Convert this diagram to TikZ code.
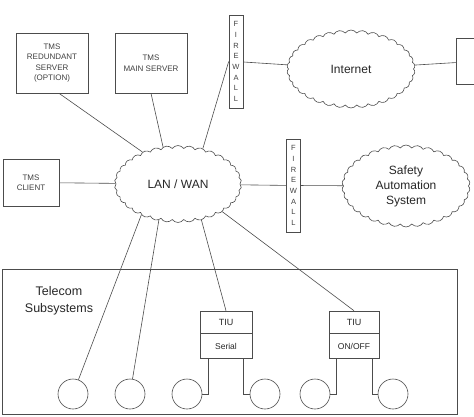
\documentclass[tikz,border=0pt]{standalone}
\usepackage{fontspec}
\setmainfont{Liberation Sans}
\usetikzlibrary{positioning,shapes.symbols}

\begin{document}
\begin{tikzpicture}[x=1pt, y=-1pt,
  line/.style={draw=black!70, line width=0.6pt},
  box/.style={draw=black!70, line width=0.6pt, align=center, text=black!75,
    font=\fontsize{8}{10.5}\selectfont, inner sep=0pt},
  wall/.style={box, minimum width=14pt, minimum height=93pt,
    font=\fontsize{7.5}{10.7}\selectfont},
  net/.style={cloud, cloud puffs=34, cloud puff arc=110, cloud ignores aspect,
    draw=black!70, line width=0.6pt, align=center, text=black!85,
    font=\fontsize{12}{15}\selectfont, inner sep=0pt},
  tiu/.style={box, minimum width=52pt, text=black!85},
  sub/.style={circle, draw=black!70, line width=0.6pt, minimum size=30pt, inner sep=0pt}
]
  \useasboundingbox (0,0) rectangle (474,416);

  % servers and client
  \node[box, minimum width=72pt, minimum height=60pt] (red) at (52,63)
    {TMS\\REDUNDANT\\SERVER\\(OPTION)};
  \node[box, minimum width=72pt, minimum height=60pt] (main) at (151,63)
    {TMS\\MAIN SERVER};
  \node[box, minimum width=56pt, minimum height=47pt] (client) at (31,182.5)
    {TMS\\CLIENT};

  % firewalls
  \node[wall] (fw1) at (236,61.5) {F\\I\\R\\E\\W\\A\\L\\L};
  \node[wall] (fw2) at (293.5,185.5) {F\\I\\R\\E\\W\\A\\L\\L};

  % networks
  \node[net, minimum width=128pt, minimum height=78pt] (internet) at (351,69) {Internet};
  \node[net, minimum width=127pt, minimum height=77pt] (lan) at (178,184) {LAN / WAN};
  \node[net, minimum width=128pt, minimum height=82pt] (safety) at (406,186)
    {Safety\\Automation\\System};
  \node[box, minimum width=40pt, minimum height=46pt, anchor=north west] (ext) at (456,38) {};

  % telecom subsystems
  \node[box, minimum width=455pt, minimum height=145pt, anchor=north west] (telecom) at (2,269) {};
  \node[align=center, text=black!85, font=\fontsize{12.5}{16.7}\selectfont] (tlabel) at (59,301)
    {Telecom\\Subsystems};

  \node[tiu, minimum height=22pt, font=\fontsize{9}{11}\selectfont] (tiu1) at (226,322) {TIU};
  \node[tiu, minimum height=25pt, font=\fontsize{8.5}{10}\selectfont, below=0pt of tiu1] (ser) {Serial};
  \node[tiu, minimum width=50pt, minimum height=22pt, font=\fontsize{9}{11}\selectfont] (tiu2) at (354,322) {TIU};
  \node[tiu, minimum width=50pt, minimum height=25pt, font=\fontsize{8.5}{10}\selectfont, below=0pt of tiu2] (onoff) {ON/OFF};

  \node[sub] (c1) at (73,394) {};
  \node[sub] (c2) at (130,394) {};
  \node[sub] (c3) at (187,394) {};
  \node[sub] (c4) at (265,394) {};
  \node[sub] (c5) at (315,394) {};
  \node[sub] (c6) at (393,394) {};

  % links
  \draw[line] ([xshift=7pt]red.south) -- (lan.138);
  \draw[line] (main.south) -- (lan.112);
  \draw[line] (fw1.west) -- (lan.55);
  \draw[line] (client) -- (lan);
  \draw[line] (fw1) -- (internet);
  \draw[line] (internet) -- (ext);
  \draw[line] (lan) -- (fw2);
  \draw[line] (fw2) -- (safety);
  \draw[line] (lan.220) -- (c1);
  \draw[line] (lan.242) -- (c2);
  \draw[line] (lan.303) -- (tiu1.north);
  \draw[line] (lan.328) -- (tiu2.north);
  \draw[line] ([xshift=-18pt]ser.south) |- (c3);
  \draw[line] ([xshift=17pt]ser.south) |- (c4);
  \draw[line] ([xshift=-18pt]onoff.south) |- (c5);
  \draw[line] ([xshift=18pt]onoff.south) |- (c6);
\end{tikzpicture}
\end{document}
